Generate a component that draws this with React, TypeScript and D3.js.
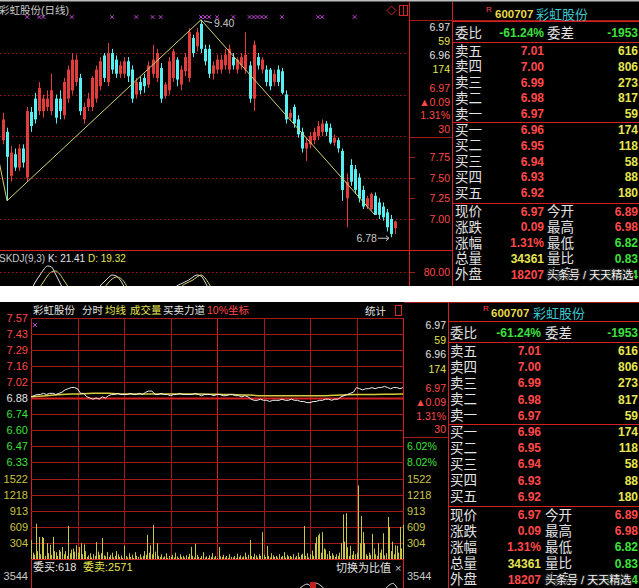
import React, { useEffect } from "react";
import * as d3 from "d3";

// ================= 日线 (daily candles) =================
const dayOpen = [7.95,8.05,7.52,7.78,7.62,7.85,7.50,8.29,8.45,8.30, 8.30,8.35,8.30,8.45,8.45,8.25,8.45,8.55,8.65,8.70, 8.20,8.35,8.35,8.45,8.60,8.97,8.65,9.00,8.92,8.75, 8.75,8.90,8.80,8.50,8.65,8.70,8.62,8.75,8.70,8.82, 8.48,8.55,8.70,8.92,8.62,8.78,8.70,9.18,9.08,9.35, 9.05,9.05,8.75,8.80,8.80,8.85,8.80,8.95,8.80,8.85, 8.80,8.85,8.45,8.95,8.80,8.80,8.80,8.65,8.80,8.78, 8.50,8.22,8.35,8.20,8.05,7.85,7.90,7.95,8.00,8.05, 8.15,8.10,7.92,7.95,7.82,7.25,7.65,7.60,7.50,7.35, 7.15,7.12,7.28,7.20,7.15,7.08,7.00,6.89];
const dayHigh = [8.28,8.10,7.88,7.85,7.90,7.90,8.35,8.35,8.52,8.65, 8.50,8.55,8.75,8.50,8.55,8.70,8.85,9.00,8.98,8.75, 8.40,8.52,8.72,8.85,8.95,9.00,9.12,9.05,8.97,8.90, 8.95,8.95,8.85,8.70,8.72,8.75,8.90,9.10,9.05,8.88, 8.65,8.95,9.05,8.95,8.85,9.00,9.30,9.22,9.30,9.40, 9.10,9.10,8.90,8.98,8.98,9.05,9.10,9.00,8.95,9.00, 9.25,8.90,9.15,9.00,8.95,8.85,8.82,8.80,8.85,8.82, 8.55,8.32,8.38,8.25,8.10,7.98,8.05,8.10,8.18,8.20, 8.18,8.15,8.02,7.98,7.85,7.55,7.72,7.65,7.55,7.40, 7.28,7.32,7.32,7.25,7.20,7.12,7.05,6.98];
const dayLow = [7.90,7.22,7.45,7.58,7.58,7.62,7.45,8.05,8.15,8.25, 8.22,8.30,8.25,8.15,8.20,8.20,8.40,8.50,8.60,8.25, 8.15,8.30,8.30,8.40,8.55,8.65,8.60,8.75,8.70,8.70, 8.70,8.65,8.40,8.45,8.50,8.52,8.58,8.70,8.65,8.40, 8.45,8.50,8.65,8.60,8.55,8.72,8.65,8.95,9.02,9.00, 8.85,8.70,8.68,8.75,8.75,8.80,8.75,8.80,8.75,8.80, 8.75,8.40,8.30,8.80,8.75,8.60,8.55,8.60,8.60,8.50, 8.15,8.18,8.10,7.98,7.80,7.70,7.85,7.90,7.95,8.00, 8.00,7.90,7.88,7.80,7.22,6.90,7.40,7.30,7.20,7.12, 7.12,7.10,7.05,7.00,6.98,6.85,6.78,6.82];
const dayClose = [8.20,7.75,7.80,7.62,7.85,7.68,8.30,8.12,8.20,8.58, 8.45,8.45,8.55,8.22,8.30,8.65,8.80,8.92,8.92,8.30, 8.35,8.45,8.70,8.80,8.90,8.70,9.00,8.80,8.75,8.85, 8.90,8.72,8.45,8.65,8.55,8.60,8.85,8.92,9.00,8.45, 8.62,8.90,9.02,8.68,8.80,8.95,9.25,9.00,9.25,9.05, 8.90,8.75,8.85,8.92,8.92,8.98,9.05,8.85,8.92,8.95, 8.98,8.45,9.10,8.85,8.92,8.65,8.60,8.75,8.65,8.52, 8.20,8.28,8.15,8.02,7.85,7.92,8.00,8.05,8.12,8.15, 8.05,7.92,7.98,7.85,7.35,7.45,7.45,7.35,7.25,7.15, 7.25,7.30,7.05,7.05,7.02,6.90,6.82,6.97];
const zigIdx = [-1, 1, 49, 92];
const zigVal = [7.70, 7.22, 9.40, 7.05];
const markIdx = [6, 9, 10, 17, 27, 33, 37, 39, 49, 50, 51, 53, 57, 61, 62, 63, 64, 65, 69, 78, 79, 87];
const dayGridVals = [7.0, 7.5, 8.0, 8.5, 9.0];
const dayAxisVals = [7.75, 7.5, 7.25, 7.0];
const skK = [30,25,35,40,45,42,55,62,70,76, 82,86,85,78,70,62,58,55,50,45, 42,48,55,60,66,70,74,77,76,72, 65,55,50,45,40,42,48,52,55,50, 52,58,62,66,68,70,72,75,77,76, 70,62,55,50,48,50,52,55,56,58, 60,52,55,54,52,48,44,42,40,36, 30,26,22,18,15,18,22,26,30,32, 30,26,24,22,15,14,12,10,9,8, 10,12,11,10,12,14,18,21.41];
const skD = [35,30,31,34,38,40,45,51,57,64, 70,76,80,81,78,72,66,60,55,50, 46,46,50,54,60,64,69,73,75,74, 70,63,56,50,45,43,45,49,52,52, 51,54,58,62,65,68,70,72,75,77, 74,68,61,55,51,50,51,53,55,56, 58,55,55,55,53,50,47,44,42,39, 34,30,26,22,18,17,19,23,27,30, 31,28,26,24,19,16,14,12,10,9, 9,11,11,11,12,13,16,19.32];
const skLevel = 80;

// ================= 分时 (intraday) =================
const priceTicks = [7.57, 7.43, 7.29, 7.16, 7.02, 6.88, 6.74, 6.60, 6.47, 6.33];
const prevClose = 6.88;
const pctLabels = ["6.02%", "8.02%"];
const volTicks = [304, 609, 913, 1218, 1522];
// price every 2 minutes (0..240)
const minutePrice = [6.89,6.90,6.91,6.91,6.92,6.91,6.92,6.92,6.91,6.92,6.93,
  6.95,6.96,6.97,6.97,6.96,6.92,6.92,6.89,6.88,6.87,
  6.88,6.87,6.89,6.88,6.90,6.91,6.91,6.92,6.91,6.91,
  6.91,6.92,6.91,6.91,6.92,6.91,6.93,6.94,6.94,6.91,
  6.91,6.92,6.91,6.91,6.90,6.91,6.91,6.92,6.91,6.91,
  6.91,6.91,6.92,6.91,6.90,6.91,6.91,6.91,6.90,6.91,
  6.91,6.90,6.90,6.91,6.91,6.90,6.90,6.89,6.90,6.89,
  6.87,6.86,6.86,6.87,6.86,6.86,6.85,6.86,6.86,6.86,
  6.87,6.86,6.86,6.87,6.86,6.86,6.85,6.85,6.84,6.84,
  6.85,6.85,6.86,6.86,6.87,6.87,6.86,6.87,6.87,6.89,
  6.90,6.91,6.92,6.93,6.97,6.96,6.95,6.96,6.96,6.97,
  6.96,6.97,6.97,6.98,6.97,6.96,6.97,6.97,6.96,6.97];
// average price every 10 minutes
const avgPrice = [6.89,6.90,6.91,6.915,6.92,6.92,6.915,6.915,6.915,6.915,6.915,6.915,6.912,6.91,6.905,6.90,6.90,6.90,6.90,6.90,6.905,6.91,6.91,6.912,6.915];
const minuteVol = [360,120,80,670,150,420,90,420,400,60, 300,110,270,80,420,150,130,60,170,140, 230,90,150,60,630,110,180,200,140,260, 120,230,300,90,280,150,40,70,110,30, 90,60,320,140,80,110,400,70,50,130, 40,80,120,30,60,150,90,40,70,20, 250,60,30,110,40,80,20,130,60,40, 90,30,60,150,80,460,120,260,90,650, 140,300,60,40,90,30,50,110,20,60, 40,80,30,120,50,20,90,40,60,30, 70,40,100,230,60,30,290,80,40,20, 60,130,30,50,20,70,40,110,30,60, 20,230,50,40,80,30,60,20,90,40, 30,60,20,100,40,70,30,50,120,40, 80,360,60,40,100,70,30,90,60,510, 80,40,250,60,30,110,70,40,60,30, 90,40,60,130,30,80,50,60,40,90, 30,60,120,40,80,100,630,60,110,30, 90,160,60,300,420,450,480,120,510,200, 180,90,150,60,110,70,40,90,60,120, 300,850,330,870,220,60,250,80,150,90, 120,1400,300,820,510,300,90,60,120,80, 480,200,90,60,300,120,180,490,70,110, 800,610,150,330,90,260,250,120,610,200,650];
const forceMin1 = [172, 175, 178, 181, 184, 187, 190];
const forceVal1 = [0, 900, 1500, 1000, 1700, 1100, 0];
const forceMin2 = [228, 231, 234, 237];
const forceVal2 = [0, 1200, 1600, 0];

// ================= 盘口 (quote panel) =================
const quoteVals = ["6.97", "59", "6.96", "174"];
const quoteChg = ["6.97", "▲0.09", "1.31%", "30"];
const sellLabels = ["卖五", "卖四", "卖三", "卖二", "卖一"];
const sellPrices = [7.01, 7.0, 6.99, 6.98, 6.97];
const sellVols = [616, 806, 273, 817, 59];
const buyLabels = ["买一", "买二", "买三", "买四", "买五"];
const buyPrices = [6.96, 6.95, 6.94, 6.93, 6.92];
const buyVols = [174, 118, 58, 88, 180];
const statLabelsL = ["现价", "涨跌", "涨幅", "总量", "外盘"];
const statValsL = ["6.97", "0.09", "1.31%", "34361", "18207"];
const statLabelsR = ["今开", "最高", "最低", "量比", "内盘"];
const statValsR = ["6.89", "6.98", "6.82", "0.83", "16154"];

const FONT = "'Liberation Sans', Arial, 'Noto Sans CJK SC', sans-serif";
const C = {
  red: "#ff4848",
  grid: "#a41a1a",
  gridBright: "#d42020",
  white: "#e4e4e4",
  gray: "#c8c8c8",
  yellow: "#e6e650",
  volY: "#c8c446",
  green: "#3ee03e",
  cyan: "#3ec8d0",
  up: "#e23c3c",
  down: "#56f0f2",
  purple: "#c244d8",
  zig: "#d6d070",
};

function DailyPanel() {
  const N = dayClose.length;
  const x = d3.scaleLinear().domain([0, N - 1]).range([3, 395]);
  const y = d3.scaleLinear().domain([7, 9]).range([219, 53]);
  const sk = d3.scaleLinear().domain([0, 100]).range([352, 252]);
  const zig = d3.line<number>().x((_, k) => x(zigIdx[k])).y((d) => y(d));
  const skLine = d3.line<number>().x((_, i) => x(i)).y((d) => sk(d)).curve(d3.curveMonotoneX);
  const hiIdx = d3.maxIndex(dayHigh);
  const loIdx = d3.minIndex(dayLow);
  return (
    <g>
      <rect x={0} y={0} width={639} height={286} fill="#000" />
      <rect x={0} y={0} width={639} height={1.5} fill="#bdbdbd" />
      <defs>
        <clipPath id="dclip"><rect x={0} y={2} width={409} height={247} /></clipPath>
        <clipPath id="skclip"><rect x={0} y={263} width={409} height={23} /></clipPath>
      </defs>
      {dayGridVals.map((v) => (
        <line key={v} x1={0} x2={408} y1={Math.round(y(v)) + 0.5} y2={Math.round(y(v)) + 0.5} stroke={C.grid} strokeDasharray="1.5 2.5" />
      ))}
      <g clipPath="url(#dclip)">
        {dayClose.map((c, i) => {
          const o = dayOpen[i];
          const up = c >= o;
          const col = up ? C.up : C.down;
          const xc = Math.round(x(i)) + 0.5;
          const top = y(Math.max(o, c));
          const bot = y(Math.min(o, c));
          return (
            <g key={i}>
              <line x1={xc} x2={xc} y1={y(dayHigh[i])} y2={y(dayLow[i])} stroke={col} strokeWidth={1} />
              <rect x={xc - 1.5} y={top} width={3} height={Math.max(1, bot - top)} fill={col} />
            </g>
          );
        })}
        <path d={zig(zigVal) || ""} fill="none" stroke={C.zig} strokeWidth={1} />
      </g>
      {markIdx.map((i) => {
        const xc = x(i);
        return (
          <g key={i} stroke={C.purple} strokeWidth={1}>
            <line x1={xc - 1.8} x2={xc + 1.8} y1={15.2} y2={18.8} />
            <line x1={xc - 1.8} x2={xc + 1.8} y1={18.8} y2={15.2} />
          </g>
        );
      })}
      {/* high / low annotations */}
      <g fill={C.gray} fontSize={10.5}>
        <line x1={x(hiIdx) + 3} x2={x(hiIdx) + 11} y1={y(dayHigh[hiIdx]) + 1} y2={y(dayHigh[hiIdx]) + 3} stroke={C.gray} />
        <text x={x(hiIdx) + 13} y={y(dayHigh[hiIdx]) + 3} dominantBaseline="central">{dayHigh[hiIdx].toFixed(2)}</text>
        <text x={x(loIdx) - 14} y={y(dayLow[loIdx]) + 1} textAnchor="end" dominantBaseline="central">{dayLow[loIdx].toFixed(2)}</text>
        <line x1={x(loIdx) - 13} x2={x(loIdx) - 2} y1={y(dayLow[loIdx]) + 1} y2={y(dayLow[loIdx]) + 1} stroke={C.gray} />
        <path d={`M${x(loIdx) - 5},${y(dayLow[loIdx]) - 1.5} L${x(loIdx) - 2},${y(dayLow[loIdx]) + 1} L${x(loIdx) - 5},${y(dayLow[loIdx]) + 3.5}`} fill="none" stroke={C.gray} />
      </g>
      <text x={-1} y={10} fill={C.gray} fontSize={10.5} dominantBaseline="central">彩虹股份(日线)</text>
      {/* icons */}
      <path d="M387,10.5 L391.5,6 L396,10.5 L391.5,15 Z" fill="none" stroke="#d02828" />
      <rect x={399.5} y={5.5} width={8} height={10} fill="none" stroke="#d02828" />
      <line x1={403.5} x2={403.5} y1={5.5} y2={15.5} stroke="#d02828" />

      {/* right axis column */}
      <line x1={409.5} x2={409.5} y1={2} y2={286} stroke={C.gridBright} />
      <line x1={452.5} x2={452.5} y1={2} y2={286} stroke={C.gridBright} />
      <line x1={410} x2={639} y1={20.5} y2={20.5} stroke={C.grid} />
      <line x1={410} x2={452} y1={Math.round(y(8)) + 1.5} y2={Math.round(y(8)) + 1.5} stroke={C.grid} />
      {quoteVals.map((t, k) => (
        <text key={"q" + k} x={450} y={27 + k * 14} textAnchor="end" dominantBaseline="central" fontSize={10.5} fill={k % 2 ? C.yellow : C.white}>{t}</text>
      ))}
      {quoteChg.map((t, k) => (
        <text key={"c" + k} x={450} y={88 + k * 13.5} textAnchor="end" dominantBaseline="central" fontSize={10.5} fill={C.red}>{t}</text>
      ))}
      {dayAxisVals.map((v) => (
        <g key={v}>
          <line x1={410} x2={415} y1={Math.round(y(v)) + 0.5} y2={Math.round(y(v)) + 0.5} stroke={C.grid} />
          <text x={450} y={y(v)} textAnchor="end" dominantBaseline="central" fontSize={10.5} fill={C.red}>{v.toFixed(2)}</text>
        </g>
      ))}

      {/* SKDJ panel */}
      <line x1={0} x2={452} y1={250.5} y2={250.5} stroke={C.gridBright} />
      <line x1={0} x2={408} y1={Math.round(sk(skLevel)) + 0.5} y2={Math.round(sk(skLevel)) + 0.5} stroke={C.grid} strokeDasharray="1.5 2.5" />
      <line x1={410} x2={415} y1={Math.round(sk(skLevel)) + 0.5} y2={Math.round(sk(skLevel)) + 0.5} stroke={C.grid} />
      <text x={450} y={sk(skLevel)} textAnchor="end" dominantBaseline="central" fontSize={10.5} fill={C.red}>{skLevel.toFixed(2)}</text>
      <text x={-1} y={258} fontSize={10} dominantBaseline="central">
        <tspan fill={C.gray}>SKDJ(9,3)  </tspan>
        <tspan fill={C.white}>K: {skK[skK.length - 1].toFixed(2)}  </tspan>
        <tspan fill={C.yellow}>D: {skD[skD.length - 1].toFixed(2)}</tspan>
      </text>
      <g clipPath="url(#skclip)">
        <path d={skLine(skK) || ""} fill="none" stroke={C.white} />
        <path d={skLine(skD) || ""} fill="none" stroke={C.zig} />
      </g>
    </g>
  );
}

function IntradayPanel() {
  const x = d3.scaleLinear().domain([0, 240]).range([31, 403]);
  const py = d3.scaleLinear().domain([prevClose, priceTicks[0]]).range([398, 318]);
  const vy = d3.scaleLinear().domain([0, volTicks[volTicks.length - 1]]).range([559, 479]);
  const fy = d3.scaleLinear().domain([0, 3544]).range([590, 576]);
  const pLine = d3.line<number>().x((_, k) => x(k * 2)).y((d) => py(d));
  const aLine = d3.line<number>().x((_, k) => x(k * 10)).y((d) => py(d)).curve(d3.curveMonotoneX);
  const f1 = d3.line<number>().x((_, k) => x(forceMin1[k])).y((d) => fy(d)).curve(d3.curveCardinal);
  const f2 = d3.line<number>().x((_, k) => x(forceMin2[k])).y((d) => fy(d)).curve(d3.curveCardinal);
  const vGrid = d3.range(0, 241, 30);
  const ry = (v: number) => Math.round(v) + 0.5;
  return (
    <g>
      <rect x={0} y={302} width={639} height={286} fill="#000" />
      <defs>
        <clipPath id="pclip"><rect x={31} y={318} width={373} height={150} /></clipPath>
      </defs>
      {/* title row */}
      <text y={310} fontSize={10.5} dominantBaseline="central">
        <tspan x={33} fill={C.white}>彩虹股份</tspan>
        <tspan x={82} fill={C.white}>分时</tspan>
        <tspan x={105} fill={C.yellow}>均线</tspan>
        <tspan x={130} fill={C.yellow}>成交量</tspan>
        <tspan x={163} fill={C.white}>买卖力道</tspan>
        <tspan x={207} fill={C.red}>10%坐标</tspan>
      </text>
      <text x={365} y={311} fontSize={10.5} fill={C.white} dominantBaseline="central">统计</text>
      <rect x={395.5} y={305.5} width={6} height={10} fill="none" stroke="#d02828" />

      {/* grid */}
      {vGrid.map((m) => (
        <line key={m} x1={ry(x(m))} x2={ry(x(m))} y1={318} y2={m === 0 || m === 240 ? 588 : 559} stroke={m === 120 || m === 0 || m === 240 ? C.gridBright : C.grid} />
      ))}
      {priceTicks.map((v) => (
        <line key={"p" + v} x1={31} x2={404} y1={ry(py(v))} y2={ry(py(v))} stroke={v === prevClose ? C.gridBright : C.grid} strokeWidth={v === prevClose ? 2 : 1} />
      ))}
      {volTicks.map((v) => (
        <line key={"v" + v} x1={31} x2={404} y1={ry(vy(v))} y2={ry(vy(v))} stroke={C.grid} />
      ))}
      <line x1={31} x2={404} y1={ry(vy(0))} y2={ry(vy(0))} stroke={C.gridBright} />
      <line x1={448.5} x2={448.5} y1={302} y2={588} stroke={C.gridBright} />
      <line x1={404} x2={448} y1={437.5} y2={437.5} stroke={C.grid} />
      <line x1={404} x2={639} y1={302.5} y2={302.5} stroke={C.grid} />

      {/* left axis labels */}
      {priceTicks.map((v) => (
        <text key={"lp" + v} x={28} y={py(v)} textAnchor="end" dominantBaseline="central" fontSize={11} fill={v > prevClose ? C.red : v === prevClose ? C.white : C.green}>{v.toFixed(2)}</text>
      ))}
      {volTicks.map((v) => (
        <text key={"lv" + v} x={28} y={vy(v)} textAnchor="end" dominantBaseline="central" fontSize={11} fill={C.volY}>{v}</text>
      ))}
      <text x={28} y={576} textAnchor="end" dominantBaseline="central" fontSize={11} fill={C.gray}>3544</text>

      {/* right axis labels */}
      {quoteVals.map((t, k) => (
        <text key={"q" + k} x={446} y={325 + k * 14.5} textAnchor="end" dominantBaseline="central" fontSize={10.5} fill={k % 2 ? C.yellow : C.white}>{t}</text>
      ))}
      {quoteChg.map((t, k) => (
        <text key={"c" + k} x={446} y={388 + k * 13.8} textAnchor="end" dominantBaseline="central" fontSize={10.5} fill={C.red}>{t}</text>
      ))}
      {pctLabels.map((t, k) => (
        <text key={t} x={407} y={py(priceTicks[8 + k])} dominantBaseline="central" fontSize={10.5} fill={C.green}>{t}</text>
      ))}
      {volTicks.map((v) => (
        <text key={"rv" + v} x={407} y={vy(v)} dominantBaseline="central" fontSize={11} fill={C.volY}>{v}</text>
      ))}
      <text x={407} y={576} dominantBaseline="central" fontSize={11} fill={C.gray}>3544</text>

      {/* volume bars */}
      {minuteVol.map((v, m) => (
        <line key={"b" + m} x1={ry(x(m))} x2={ry(x(m))} y1={vy(0)} y2={vy(v)} stroke={C.volY} strokeWidth={1} />
      ))}

      {/* price and average lines */}
      <g clipPath="url(#pclip)">
        <path d={aLine(avgPrice) || ""} fill="none" stroke="#d8cc3c" strokeWidth={1.5} />
        <path d={pLine(minutePrice) || ""} fill="none" stroke="#f0f0f0" strokeWidth={1} />
      </g>
      <g stroke={C.purple}>
        <line x1={33} x2={37} y1={323} y2={327} />
        <line x1={33} x2={37} y1={327} y2={323} />
      </g>

      {/* bottom info */}
      <text y={567} fontSize={11} dominantBaseline="central">
        <tspan x={33} fill={C.white}>委买:618</tspan>
        <tspan x={83} fill={C.yellow}>委卖:2571</tspan>
      </text>
      <text x={336} y={568} fontSize={11} fill={C.white} dominantBaseline="central">切换为比值</text>
      <text x={395} y={568} fontSize={11} fill={C.gray} dominantBaseline="central">×</text>
      <path d={f1(forceVal1) || ""} fill="none" stroke={C.white} />
      <path d={f2(forceVal2) || ""} fill="none" stroke={C.white} />
      <rect x={x(180)} y={582} width={6} height={6} fill="#c02020" />
    </g>
  );
}

type Layout = {
  left: number; top: number; bottom: number; labelX: number; priceR: number; label2X: number; volR: number;
  headerY: number; rX: number; codeX: number; nameX: number; weibiY: number; rowStart: number; step: number; gap: number;
};

const topLayout: Layout = { left: 452, top: 0, bottom: 286, labelX: 455, priceR: 544, label2X: 547, volR: 638, headerY: 14, rX: 486, codeX: 495, nameX: 536, weibiY: 33, rowStart: 51, step: 15.8, gap: 2.5 };
const botLayout: Layout = { left: 448, top: 302, bottom: 588, labelX: 450, priceR: 541, label2X: 545, volR: 638, headerY: 313, rX: 483, codeX: 491, nameX: 533, weibiY: 333, rowStart: 351, step: 16.2, gap: 2 };

function InfoPanel({ L }: { L: Layout }) {
  const rowY = (k: number) => L.rowStart + k * L.step + (k >= 10 ? L.gap : 0);
  const lines = [L.weibiY - 12, L.rowStart - 9, rowY(4) + 8, rowY(9) + 9.5];
  const fsL = 13.5;
  const fsN = 12;
  return (
    <g>
      {lines.map((yy, k) => (
        <line key={k} x1={L.left} x2={639} y1={Math.round(yy) + 0.5} y2={Math.round(yy) + 0.5} stroke={C.gridBright} />
      ))}
      <text x={L.rX} y={L.headerY - 5} fontSize={8} fill={C.red} dominantBaseline="central">R</text>
      <text x={L.codeX} y={L.headerY} fontSize={11.5} fontWeight="bold" fill="#e8d84a" dominantBaseline="central">600707</text>
      <text x={L.nameX} y={L.headerY} fontSize={13} fill={C.cyan} dominantBaseline="central">彩虹股份</text>

      <text x={L.labelX} y={L.weibiY} fontSize={fsL} fill={C.white} dominantBaseline="central">委比</text>
      <text x={L.priceR} y={L.weibiY} fontSize={fsN} fontWeight="bold" fill={C.green} textAnchor="end" dominantBaseline="central">-61.24%</text>
      <text x={L.label2X} y={L.weibiY} fontSize={fsL} fill={C.white} dominantBaseline="central">委差</text>
      <text x={L.volR} y={L.weibiY} fontSize={fsN} fontWeight="bold" fill={C.green} textAnchor="end" dominantBaseline="central">-1953</text>

      {sellLabels.map((t, k) => (
        <g key={t}>
          <text x={L.labelX} y={rowY(k)} fontSize={fsL} fill={C.white} dominantBaseline="central">{t}</text>
          <text x={L.priceR} y={rowY(k)} fontSize={fsN} fontWeight="bold" fill={C.red} textAnchor="end" dominantBaseline="central">{sellPrices[k].toFixed(2)}</text>
          <text x={L.volR} y={rowY(k)} fontSize={fsN} fontWeight="bold" fill={C.yellow} textAnchor="end" dominantBaseline="central">{sellVols[k]}</text>
        </g>
      ))}
      {buyLabels.map((t, k) => (
        <g key={t}>
          <text x={L.labelX} y={rowY(k + 5)} fontSize={fsL} fill={C.white} dominantBaseline="central">{t}</text>
          <text x={L.priceR} y={rowY(k + 5)} fontSize={fsN} fontWeight="bold" fill={C.red} textAnchor="end" dominantBaseline="central">{buyPrices[k].toFixed(2)}</text>
          <text x={L.volR} y={rowY(k + 5)} fontSize={fsN} fontWeight="bold" fill={C.yellow} textAnchor="end" dominantBaseline="central">{buyVols[k]}</text>
        </g>
      ))}
      {statLabelsL.map((t, k) => {
        const yy = rowY(k + 10);
        const lc = k === 3 ? C.yellow : C.red;
        const rc = k >= 2 ? C.green : C.red;
        return (
          <g key={t}>
            <text x={L.labelX} y={yy} fontSize={fsL} fill={C.white} dominantBaseline="central">{t}</text>
            <text x={L.priceR} y={yy} fontSize={fsN} fontWeight="bold" fill={lc} textAnchor="end" dominantBaseline="central">{statValsL[k]}</text>
            <text x={L.label2X} y={yy} fontSize={fsL} fill={C.white} dominantBaseline="central">{statLabelsR[k]}</text>
            <text x={L.volR} y={yy} fontSize={fsN} fontWeight="bold" fill={rc} textAnchor="end" dominantBaseline="central">{statValsR[k]}</text>
          </g>
        );
      })}
      <text x={L.label2X} y={rowY(14)} fontSize={11} fill="#f4f4f4" stroke="#1a1a1a" strokeWidth={2.5} paintOrder="stroke" dominantBaseline="central">头条号 / 天天精选</text>
    </g>
  );
}

export default function App() {
  useEffect(() => {
    document.body.style.margin = "0";
  }, []);
  return (
    <svg width={639} height={588} viewBox="0 0 639 588" style={{ position: "absolute", left: 0, top: 0, display: "block" }} fontFamily={FONT}>
      <rect x={0} y={0} width={639} height={588} fill="#ffffff" />
      <DailyPanel />
      <IntradayPanel />
      <InfoPanel L={topLayout} />
      <InfoPanel L={botLayout} />
    </svg>
  );
}
